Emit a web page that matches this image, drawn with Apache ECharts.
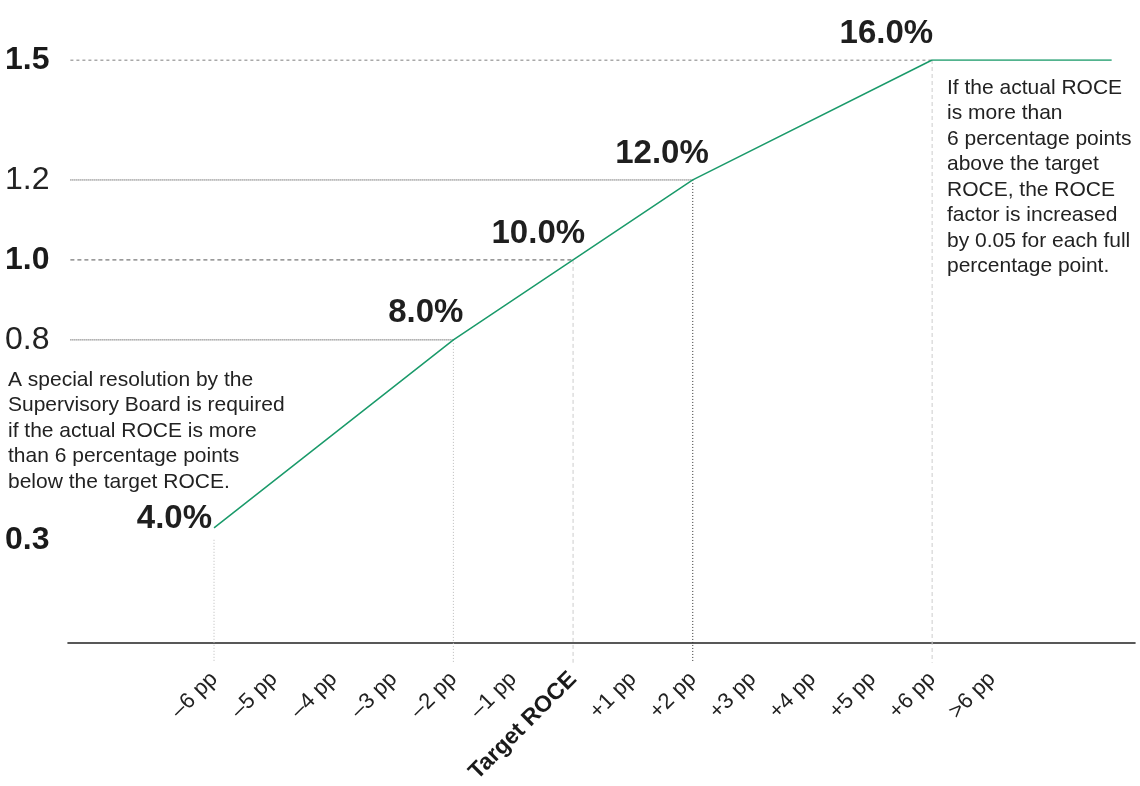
<!DOCTYPE html>
<html>
<head>
<meta charset="utf-8">
<script src="https://cdn.jsdelivr.net/npm/echarts@6/dist/echarts.min.js"></script>
<style>
  html, body { margin: 0; padding: 0; background: #fff; }
  #chart { width: 1140px; height: 786px; }
</style>
</head>
<body>
<div id="chart"></div>
<script>
// ---- data ----
const categories = ['–6 pp', '–5 pp', '–4 pp', '–3 pp', '–2 pp', '–1 pp', 'Target ROCE', '+1 pp', '+2 pp', '+3 pp', '+4 pp', '+5 pp', '+6 pp', '>6 pp'];
const categoryPos = [-6, -5, -4, -3, -2, -1, 0, 1, 2, 3, 4, 5, 6, 7];
const boldCategories = ['Target ROCE'];

const linePP = [-6, -2, 0, 2, 6, 9];
const lineFactor = [0.33, 0.8, 1.0, 1.2, 1.5, 1.5];

const pointPP = [-6, -2, 0, 2, 6];
const pointFactor = [0.3, 0.8, 1.0, 1.2, 1.5];
const roceLabels = ['4.0%', '8.0%', '10.0%', '12.0%', '16.0%'];

const yTicks = [0.3, 0.8, 1.0, 1.2, 1.5];
const yTickLabels = ['0.3', '0.8', '1.0', '1.2', '1.5'];
const yTickBold = [true, false, true, false, true];

const noteLeft = [
  'A special resolution by the',
  'Supervisory Board is required',
  'if the actual ROCE is more',
  'than 6 percentage points',
  'below the target ROCE.'
];
const noteRight = [
  'If the actual ROCE',
  'is more than',
  '6 percentage points',
  'above the target',
  'ROCE, the ROCE',
  'factor is increased',
  'by 0.05 for each full',
  'percentage point.'
];

// ---- styles ----
const FONT = '"Liberation Sans", Arial, Helvetica, sans-serif';
const X_MIN = -8.44, X_MAX = 9.39, Y_MIN = 0.0425, Y_MAX = 1.5;
const DROP_BOTTOM = -0.0075;
const hStyles = { 0.8: { type: [1, 1], color: '#333' }, 1.0: { type: [4, 3], color: '#555' }, 1.2: { type: [1, 1], color: '#333' }, 1.5: { type: [3, 3], color: '#555' } };
const vStyles = { '-6': { type: [1, 2], color: '#bbb' }, '-2': { type: [1, 2], color: '#bbb' }, '0': { type: [4, 3], color: '#ccc' }, '2': { type: [1, 2], color: '#333' }, '6': { type: [4, 3], color: '#ccc' } };
const labelOffsets = [[-2, 0], [10, 0], [12, 0], [16, 0], [1, 0]];
const labelDistances = [4, 10, 10, 10, 10];

const series = [];

// horizontal reference lines from y axis to points
pointPP.forEach((x, i) => {
  const y = pointFactor[i];
  if (!hStyles[y]) return;
  series.push({
    type: 'line', silent: true, symbol: 'none', z: 1,
    data: [[X_MIN + 0.04, y], [x, y]],
    lineStyle: { width: 1, type: hStyles[y].type, color: hStyles[y].color }
  });
});

// vertical drop lines from points to below axis
pointPP.forEach((x, i) => {
  const st = vStyles[String(x)];
  series.push({
    type: 'line', silent: true, symbol: 'none', clip: false, z: 1,
    data: [[x, pointFactor[i]], [x, DROP_BOTTOM]],
    lineStyle: { width: 1, type: st.type, color: st.color }
  });
});

// main ROCE factor line
series.push({
  type: 'line', symbol: 'none', z: 5,
  data: linePP.map((x, i) => [x, lineFactor[i]]),
  lineStyle: { width: 1.5, color: '#1a9a6a' }
});

// point labels
const pointLabelStyle = { fontFamily: FONT, fontSize: 33, fontWeight: 'bold', color: '#1f1f1f' };
series.push({
  type: 'scatter', symbolSize: 0, z: 6,
  itemStyle: { opacity: 1 },
  data: pointPP.map((x, i) => ({
    value: [x, pointFactor[i]],
    label: Object.assign({
      show: true, formatter: roceLabels[i], position: 'top', align: 'right',
      distance: labelDistances[i], offset: labelOffsets[i]
    }, pointLabelStyle)
  })),
  label: Object.assign({ show: true }, pointLabelStyle)
});

function noteText(lines, left, top) {
  return {
    type: 'text', left: left, top: top,
    style: { text: lines.join('\n'), font: '21px ' + FONT, fill: '#222', lineHeight: 25.5 }
  };
}

const option = {
  animation: false,
  backgroundColor: '#fff',
  grid: { left: 68, right: 5, top: 60, bottom: 143 },
  xAxis: {
    type: 'value', min: X_MIN, max: X_MAX,
    splitLine: { show: false },
    axisTick: { show: false },
    axisLine: { show: true, onZero: false, lineStyle: { color: '#222', width: 1.6 } },
    axisLabel: {
      customValues: categoryPos,
      rotate: 45, margin: 33,
      fontFamily: FONT, fontSize: 22, color: '#222',
      formatter: v => {
        const idx = categoryPos.indexOf(Math.round(v));
        if (idx < 0) return '';
        const t = categories[idx];
        return boldCategories.includes(t) ? '{b|' + t + '}' : '{n|' + t + '}';
      },
      rich: {
        n: { fontFamily: FONT, fontSize: 22, color: '#222' },
        b: { fontFamily: FONT, fontSize: 23, fontWeight: 'bold', color: '#1a1a1a' }
      }
    }
  },
  yAxis: {
    type: 'value', min: Y_MIN, max: Y_MAX,
    splitLine: { show: false },
    axisTick: { show: false },
    axisLine: { show: false },
    axisLabel: {
      customValues: yTicks,
      align: 'left', margin: 63,
      formatter: v => {
        const idx = yTicks.findIndex(t => Math.abs(t - v) < 1e-6);
        if (idx < 0) return '';
        return (yTickBold[idx] ? '{b|' : '{n|') + yTickLabels[idx] + '}';
      },
      rich: {
        n: { fontFamily: FONT, fontSize: 32, color: '#222' },
        b: { fontFamily: FONT, fontSize: 32, fontWeight: 'bold', color: '#1a1a1a' }
      }
    }
  },
  graphic: [noteText(noteLeft, 8, 367), noteText(noteRight, 947, 75)],
  series: series
};

const chart = echarts.init(document.getElementById('chart'), null, { renderer: 'canvas' });
chart.setOption(option);
</script>
</body>
</html>
